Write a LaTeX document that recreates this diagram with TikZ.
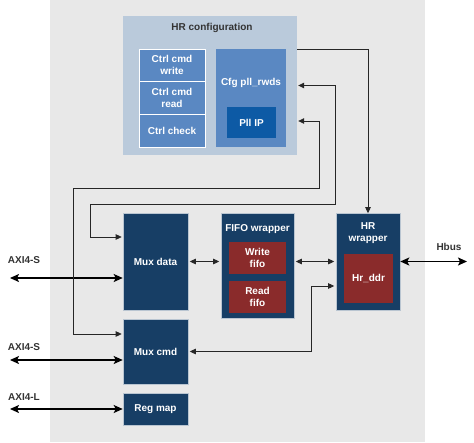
\documentclass[tikz,border=0pt]{standalone}
\usepackage{fontspec}
\setmainfont{Liberation Sans}
\usetikzlibrary{arrows.meta}
\definecolor{bggray}{HTML}{E8E8E8}
\definecolor{cfgbg}{HTML}{BACADB}
\definecolor{midblue}{HTML}{5A88C2}
\definecolor{pllblue}{HTML}{0D5AA5}
\definecolor{navy}{HTML}{173E65}
\definecolor{darkred}{HTML}{8A2B2B}
\definecolor{txtgray}{HTML}{333333}
\tikzset{
  blk/.style={rectangle, inner sep=0pt, text=white, font=\fontsize{10}{12}\selectfont\bfseries, align=center},
  navyblk/.style={blk, fill=navy, draw=white!70!navy, line width=0.6pt},
  redblk/.style={blk, fill=darkred},
  ctrlblk/.style={blk, fill=midblue, draw=white, line width=0.8pt},
  lbl/.style={text=txtgray, font=\fontsize{10}{12}\selectfont\bfseries, inner sep=0pt},
  thinarr/.style={draw=black!85, line width=0.8pt, {Triangle[length=6pt,width=5.5pt]}-{Triangle[length=6pt,width=5.5pt]}},
  thinone/.style={draw=black!85, line width=0.8pt, -{Triangle[length=6pt,width=5.5pt]}},
  bigarr/.style={draw=black, line width=1.6pt, {Stealth[length=9pt,width=8pt,inset=2pt]}-{Stealth[length=9pt,width=8pt,inset=2pt]}}
}
\begin{document}
\begin{tikzpicture}[x=1pt,y=-1pt]
\useasboundingbox (0,0) rectangle (474,442);
\fill[bggray] (50,0) rectangle (425,442);
% HR configuration
\node[rectangle, fill=cfgbg, minimum width=174pt, minimum height=139pt, inner sep=0pt] (hrc) at (210,85.5) {};
\node[lbl] (hrct) at (212,28) {HR configuration};
\node[ctrlblk, minimum width=66pt, minimum height=32pt] (cw) at (172,65) {Ctrl cmd\\write};
\node[ctrlblk, minimum width=66pt, minimum height=33pt] (cr) at (172,97.5) {Ctrl cmd\\read};
\node[ctrlblk, minimum width=66pt, minimum height=33pt] (cc) at (172,130.5) {Ctrl check};
\node[blk, fill=midblue, minimum width=70pt, minimum height=98pt] (cfg) at (251,98) {};
\node[blk] (cfgt) at (251,83) {Cfg pll\_rwds};
\node[blk, fill=pllblue, minimum width=49pt, minimum height=31pt] (pll) at (251.5,122.5) {Pll IP};
% Mux blocks
\node[navyblk, minimum width=65pt, minimum height=97pt] (muxd) at (155.5,261.5) {Mux data};
\node[navyblk, minimum width=65pt, minimum height=65pt] (muxc) at (155.5,351.5) {Mux cmd};
\node[navyblk, minimum width=65pt, minimum height=32pt] (reg) at (155.5,409) {Reg map};
% FIFO wrapper
\node[navyblk, minimum width=73pt, minimum height=105pt] (fifo) at (257.5,265.5) {};
\node[blk] (fifot) at (257.5,229) {FIFO wrapper};
\node[redblk, minimum width=57pt, minimum height=32pt] (wf) at (257.5,258) {Write\\fifo};
\node[redblk, minimum width=57pt, minimum height=32pt] (rf) at (257.5,297) {Read\\fifo};
% HR wrapper
\node[navyblk, minimum width=64pt, minimum height=97pt] (hrw) at (368,261.5) {};
\node[blk] (hrwt) at (368,233) {HR\\wrapper};
\node[redblk, minimum width=49pt, minimum height=49pt] (ddr) at (368.5,278.5) {Hr\_ddr};
% labels
\node[lbl] (l1) at (24,260) {AXI4-S};
\node[lbl] (l2) at (24,347) {AXI4-S};
\node[lbl] (l3) at (24,397) {AXI4-L};
\node[lbl] (l4) at (449,247) {Hbus};
% coordinates
\coordinate (a1) at (10,278);
\coordinate (a2) at (10,360);
\coordinate (a3) at (10,409);
\coordinate (hb) at (467,261.5);
\coordinate (c1) at (335,204);
\coordinate (c2) at (90,204);
\coordinate (c3) at (319,188);
\coordinate (c4) at (73,188);
\coordinate (c5) at (311,286);
% connectors
\draw[bigarr] (a1) -- (a1 -| muxd.west);
\draw[bigarr] (a2) -- (a2 -| muxc.west);
\draw[bigarr] (a3) -- (a3 -| reg.west);
\draw[bigarr] (hrw.east) -- (hb);
\draw[thinarr] ([xshift=1.5pt]muxd.east) -- ([xshift=-1.5pt]muxd.east -| fifo.west);
\draw[thinarr] ([xshift=1.5pt]hrw.west -| fifo.east) -- ([xshift=-1.5pt]hrw.west);
\draw[thinone] ([yshift=-33.5pt]hrc.north east) -| ([yshift=-0.5pt]hrw.north);
\draw[thinarr] ([xshift=1pt]hrc.east) -| (c1) -- (c2) |- ([yshift=24.5pt,xshift=-1pt]muxd.west);
\draw[thinarr] ([xshift=1pt,yshift=-35.5pt]hrc.east) -| (c3) -- (c4) |- ([yshift=17.5pt,xshift=-1pt]muxc.west);
\draw[thinarr] ([xshift=1.5pt]muxc.east) -| (c5) -- ([yshift=-24.5pt,xshift=-1.5pt]hrw.west);
\end{tikzpicture}
\end{document}
